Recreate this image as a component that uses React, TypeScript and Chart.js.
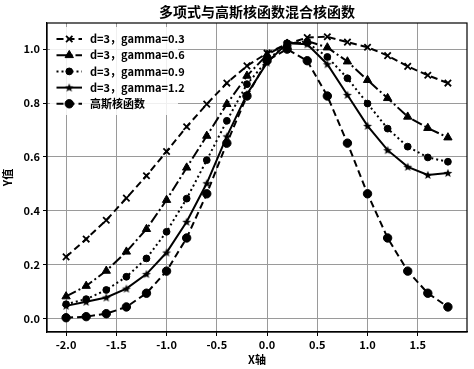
import { useEffect, useRef } from 'react';
import { Chart, registerables } from 'chart.js';
import { drawPoint } from 'chart.js/helpers';

Chart.register(...registerables);

const xValues = [-2.0, -1.8, -1.6, -1.4, -1.2, -1.0, -0.8, -0.6, -0.4, -0.2, 0.0, 0.2, 0.4, 0.6, 0.8, 1.0, 1.2, 1.4, 1.6, 1.8];
const gamma03 = [0.229, 0.295, 0.365, 0.447, 0.53, 0.62, 0.712, 0.796, 0.874, 0.938, 0.985, 1.019, 1.043, 1.046, 1.026, 1.007, 0.976, 0.936, 0.903, 0.874];
const gamma06 = [0.082, 0.121, 0.177, 0.248, 0.332, 0.44, 0.56, 0.678, 0.796, 0.901, 0.979, 1.02, 1.03, 1.006, 0.954, 0.885, 0.818, 0.749, 0.707, 0.672];
const gamma09 = [0.053, 0.072, 0.106, 0.155, 0.223, 0.322, 0.445, 0.588, 0.734, 0.87, 0.957, 1.022, 1.024, 0.971, 0.892, 0.798, 0.705, 0.638, 0.598, 0.582];
const gamma12 = [0.047, 0.062, 0.078, 0.111, 0.165, 0.245, 0.359, 0.502, 0.676, 0.833, 0.95, 1.022, 1.018, 0.944, 0.83, 0.715, 0.625, 0.563, 0.533, 0.54];
const gauss = [0.003, 0.007, 0.018, 0.043, 0.094, 0.176, 0.299, 0.463, 0.651, 0.826, 0.957, 1.0, 0.957, 0.826, 0.651, 0.463, 0.299, 0.176, 0.094, 0.043];

const seriesLabels = ['d=3，gamma=0.3', 'd=3，gamma=0.6', 'd=3，gamma=0.9', 'd=3，gamma=1.2', '高斯核函数'];
const xTicks = [-2.0, -1.5, -1.0, -0.5, 0.0, 0.5, 1.0, 1.5];
const yTicks = [0.0, 0.2, 0.4, 0.6, 0.8, 1.0];
const titleText = '多项式与高斯核函数混合核函数';
const xTitle = 'X轴';
const yTitle = 'Y值';

const FONT = '"Noto Sans CJK SC", "Noto Sans", sans-serif';

function makeStar(): HTMLCanvasElement {
  const c = document.createElement('canvas');
  c.width = 10;
  c.height = 10;
  const g = c.getContext('2d')!;
  g.fillStyle = '#000';
  g.beginPath();
  const cx = 5, cy = 5.3, ro = 4.6, ri = 2.0;
  for (let i = 0; i < 10; i++) {
    const r = i % 2 === 0 ? ro : ri;
    const a = -Math.PI / 2 + (i * Math.PI) / 5;
    const px = cx + r * Math.cos(a);
    const py = cy + r * Math.sin(a);
    if (i === 0) g.moveTo(px, py);
    else g.lineTo(px, py);
  }
  g.closePath();
  g.fill();
  return c;
}

export default function App() {
  const ref = useRef<HTMLCanvasElement | null>(null);

  useEffect(() => {
    const canvas = ref.current;
    if (!canvas) return;
    const star = makeStar();
    const seriesValues = [gamma03, gamma06, gamma09, gamma12, gauss];
    const styles: any[] = [
      { dash: [7, 4], point: 'crossRot', r: 4.5, bw: 1.8 },
      { dash: [11, 3, 2, 3], point: 'triangle', r: 4.8, bw: 1 },
      { dash: [2, 3], point: 'circle', r: 3.4, bw: 1 },
      { dash: [], point: star, r: 5, bw: 1 },
      { dash: [7, 4], point: 'circle', r: 4.2, bw: 1 },
    ];

    const datasets = seriesValues.map((vals, i) => ({
      label: seriesLabels[i],
      data: xValues.map((x, k) => ({ x, y: vals[k] })),
      borderColor: '#000',
      backgroundColor: '#000',
      borderWidth: 2,
      borderDash: styles[i].dash,
      pointStyle: styles[i].point,
      pointRadius: styles[i].r,
      pointBorderWidth: styles[i].bw,
      pointBackgroundColor: '#000',
      pointBorderColor: '#000',
      tension: 0,
      fill: false,
      order: 5 - i,
    }));

    const overlay = {
      id: 'overlay',
      afterDraw(chart: any) {
        const ctx = chart.ctx;
        const area = chart.chartArea;
        ctx.save();
        ctx.fillStyle = '#000';
        ctx.font = `bold 14px ${FONT}`;
        ctx.textAlign = 'center';
        ctx.textBaseline = 'middle';
        ctx.fillText(titleText, (area.left + area.right) / 2, 12);
        ctx.font = `bold 11px ${FONT}`;
        ctx.fillText(xTitle, (area.left + area.right) / 2, 360);
        ctx.save();
        ctx.translate(8, (area.top + area.bottom) / 2);
        ctx.rotate(-Math.PI / 2);
        ctx.fillText(yTitle, 0, 0);
        ctx.restore();
        const lx = area.left + 3;
        const ly = area.top + 4;
        ctx.fillStyle = 'rgba(255,255,255,0.85)';
        ctx.fillRect(lx, ly, 128, 88);
        const rowY0 = 39;
        const rowH = 16.2;
        chart.data.datasets.forEach((ds: any, i: number) => {
          const y = rowY0 + i * rowH;
          ctx.strokeStyle = '#000';
          ctx.fillStyle = '#000';
          ctx.lineWidth = 2;
          ctx.setLineDash(ds.borderDash || []);
          ctx.beginPath();
          ctx.moveTo(56.5, y);
          ctx.lineTo(82, y);
          ctx.stroke();
          ctx.setLineDash([]);
          ctx.lineWidth = ds.pointBorderWidth;
          drawPoint(ctx, { pointStyle: ds.pointStyle, radius: ds.pointRadius, rotation: 0, borderWidth: ds.pointBorderWidth }, 69.25, y);
          ctx.fillStyle = '#000';
          ctx.font = `bold 11px ${FONT}`;
          ctx.textAlign = 'left';
          ctx.textBaseline = 'middle';
          ctx.fillText(ds.label, 90, y);
        });
        ctx.restore();
      },
    };

    const chart = new Chart(canvas, {
      type: 'line',
      data: { datasets },
      options: {
        animation: false,
        responsive: false,
        maintainAspectRatio: false,
        layout: { padding: { top: 23, right: 7, left: 0, bottom: 0 } },
        plugins: { legend: { display: false }, title: { display: false }, tooltip: { enabled: false } },
        scales: {
          x: {
            type: 'linear',
            min: -2.19,
            max: 1.99,
            afterBuildTicks: (s: any) => { s.ticks = xTicks.map((v) => ({ value: v })); },
            afterFit: (s: any) => { s.height = 37; },
            ticks: {
              color: '#000',
              font: { family: FONT, size: 11, weight: 'bold' },
              padding: 2,
              maxRotation: 0,
              callback: (v: any) => Number(v).toFixed(1),
            },
            grid: { color: '#9a9a9a', lineWidth: 1, tickLength: 4, tickColor: '#000' },
            border: { color: '#000', width: 1.2 },
          },
          y: {
            type: 'linear',
            min: -0.05,
            max: 1.097,
            afterBuildTicks: (s: any) => { s.ticks = yTicks.map((v) => ({ value: v })); },
            afterFit: (s: any) => { s.width = 47; },
            ticks: {
              color: '#000',
              font: { family: FONT, size: 11, weight: 'bold' },
              padding: 3,
              callback: (v: any) => Number(v).toFixed(1),
            },
            grid: { color: '#9a9a9a', lineWidth: 1, tickLength: 4, tickColor: '#000' },
            border: { color: '#000', width: 1.2 },
          },
        },
      },
      plugins: [
        overlay,
        {
          id: 'frame',
          afterDatasetsDraw(chart: any) {
            const { ctx, chartArea: a } = chart;
            ctx.save();
            ctx.strokeStyle = '#000';
            ctx.lineWidth = 1.2;
            ctx.strokeRect(a.left, a.top, a.right - a.left, a.bottom - a.top);
            ctx.restore();
          },
        },
      ],
    } as any);
    return () => chart.destroy();
  }, []);

  return (
    <div style={{ position: 'absolute', left: 0, top: 0, width: 474, height: 369, background: '#fff' }}>
      <canvas ref={ref} width={474} height={369} style={{ width: 474, height: 369 }} />
    </div>
  );
}
